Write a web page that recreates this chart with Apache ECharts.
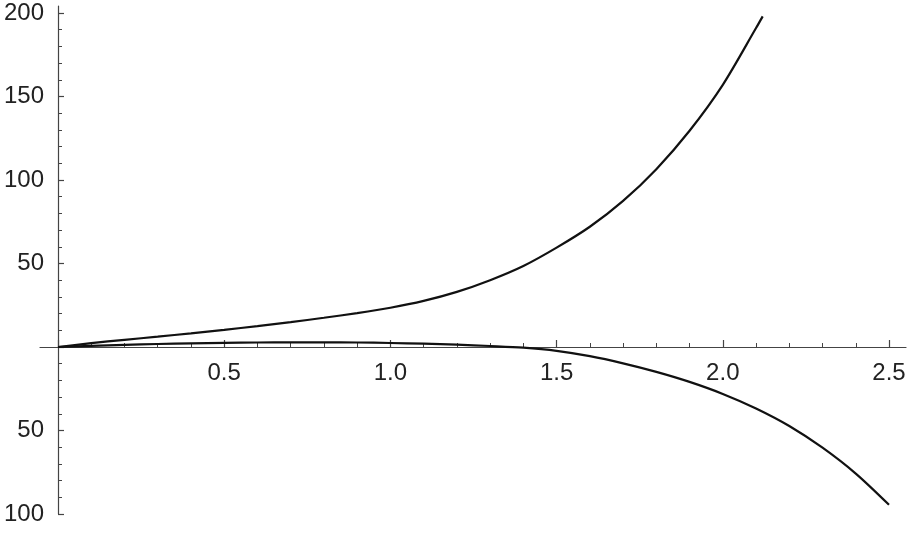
<!DOCTYPE html>
<html>
<head>
<meta charset="utf-8">
<script src="https://cdn.jsdelivr.net/npm/echarts@6/dist/echarts.min.js"></script>
<style>
html,body{margin:0;padding:0;background:#fff;}
#chart{width:908px;height:533px;}
</style>
</head>
<body>
<div id="chart"></div>
<script>
// Data
var upperX = [0, 0.1, 0.2, 0.3, 0.4, 0.5, 0.6, 0.7, 0.8, 0.9, 1.0, 1.1, 1.2, 1.3, 1.4, 1.5, 1.6, 1.7, 1.8, 1.9, 2.0, 2.1, 2.12];
var upperY = [0, 2.3, 4.3, 6.2, 8.2, 10.3, 12.5, 14.9, 17.5, 20.3, 23.5, 27.6, 33.0, 40.0, 48.5, 59.5, 72, 87.5, 106.5, 129.5, 157, 191, 198];
var lowerX = [0, 0.1, 0.2, 0.3, 0.4, 0.5, 0.6, 0.7, 0.8, 0.9, 1.0, 1.1, 1.2, 1.3, 1.4, 1.5, 1.6, 1.7, 1.8, 1.9, 2.0, 2.1, 2.2, 2.3, 2.4, 2.5];
var lowerY = [0, 0.7, 1.3, 1.8, 2.2, 2.5, 2.7, 2.8, 2.8, 2.7, 2.4, 2.0, 1.4, 0.6, -0.4, -2.3, -5.5, -9.8, -14.9, -20.9, -28.1, -36.8, -47.3, -60.3, -75.8, -94.5];
var xTicks = [0.5, 1.0, 1.5, 2.0, 2.5];
var yTicks = [-100, -50, 50, 100, 150, 200];

function pairs(xs, ys) { return xs.map(function (x, i) { return [x, ys[i]]; }); }

var axisColor = '#444';
var labelFont = { fontFamily: 'Liberation Sans', fontSize: 24, color: '#222' };

var chart = echarts.init(document.getElementById('chart'), null, { renderer: 'canvas' });
chart.setOption({
  animation: false,
  backgroundColor: '#fff',
  grid: [
    { left: 40, right: 2, top: 6, bottom: 19, containLabel: false, outerBoundsMode: 'none' },
    { left: 58, right: 19, top: 13, bottom: 19, containLabel: false, outerBoundsMode: 'none' }
  ],
  xAxis: [
    { type: 'value', gridIndex: 0, min: -0.054, max: 2.55,
      axisLine: { show: true, onZero: true, lineStyle: { color: axisColor, width: 1.2 } },
      axisTick: { show: false }, axisLabel: { show: false }, splitLine: { show: false } },
    { type: 'value', gridIndex: 1, min: 0, max: 2.5, interval: 0.5,
      position: 'bottom', offset: -167,
      axisLine: { show: false, onZero: false },
      axisTick: { show: true, inside: true, length: 7, lineStyle: { color: axisColor, width: 1.2 } },
      minorTick: { show: true, splitNumber: 5, length: 4, lineStyle: { color: axisColor, width: 1 } },
      axisLabel: Object.assign({ margin: 14, formatter: function (v) {
        return xTicks.indexOf(Math.round(v * 10) / 10) >= 0 ? v.toFixed(1) : '';
      } }, labelFont),
      splitLine: { show: false } }
  ],
  yAxis: [
    { type: 'value', gridIndex: 0, min: -100, max: 204,
      axisLine: { show: true, onZero: true, lineStyle: { color: axisColor, width: 1.2 } },
      axisTick: { show: false }, axisLabel: { show: false }, splitLine: { show: false } },
    { type: 'value', gridIndex: 1, min: -100, max: 200, interval: 50,
      position: 'left',
      axisLine: { show: false, onZero: false },
      axisTick: { show: true, inside: true, length: 6, lineStyle: { color: axisColor, width: 1.2 } },
      minorTick: { show: true, splitNumber: 5, length: 4, lineStyle: { color: axisColor, width: 1 } },
      axisLabel: Object.assign({ margin: 14, formatter: function (v) {
        return yTicks.indexOf(v) >= 0 ? String(Math.abs(v)) : '';
      } }, labelFont),
      splitLine: { show: false } }
  ],
  series: [
    { type: 'line', xAxisIndex: 1, yAxisIndex: 1, data: pairs(upperX, upperY), smooth: 0.3,
      showSymbol: false, lineStyle: { color: '#111', width: 2.2 } },
    { type: 'line', xAxisIndex: 1, yAxisIndex: 1, data: pairs(lowerX, lowerY), smooth: 0.3,
      showSymbol: false, lineStyle: { color: '#111', width: 2.2 } }
  ]
});
</script>
</body>
</html>
